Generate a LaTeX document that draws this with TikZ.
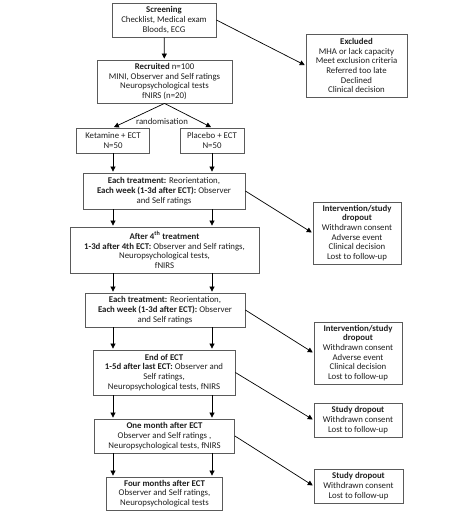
\documentclass[tikz,border=0pt]{standalone}
\usepackage{fontspec}
\setmainfont{Carlito}
\usetikzlibrary{arrows.meta,positioning,calc}
\definecolor{boxGray}{RGB}{90,90,90}
\definecolor{txtGray}{RGB}{30,30,30}

\begin{document}
\begin{tikzpicture}[x=1pt,y=-1pt,
    box/.style={draw=boxGray,line width=0.8pt,align=center,inner sep=0pt,
                text=txtGray,font=\fontsize{8.8}{9.7}\selectfont},
    arr/.style={-{Triangle[length=5pt,width=5pt]},line width=0.7pt,shorten >=1pt}]

    \useasboundingbox (0,0) rectangle (474,514);

    % Main column
    \node[box,minimum width=104pt,minimum height=34pt] (scr) at (164,20)
      {\textbf{Screening}\\Checklist, Medical exam\\Bloods, ECG};
    \node[box,minimum width=135pt,minimum height=43pt] (rec) at (164.5,81.5)
      {\textbf{Recruited} n=100\\MINI, Observer and Self ratings\\Neuropsychological tests\\fNIRS (n=20)};
    \node[text=txtGray,font=\fontsize{8.8}{9.7}\selectfont] (rnd) at (162,121) {randomisation};
    \node[box,minimum width=73pt,minimum height=25pt] (ket) at (113,140.5)
      {Ketamine + ECT\\N=50};
    \node[box,minimum width=64pt,minimum height=25pt] (pla) at (212,140.5)
      {Placebo + ECT\\N=50};
    \node[box,minimum width=162pt,minimum height=36pt] (tr1) at (164,191)
      {\textbf{Each treatment:} Reorientation,\\\textbf{Each week (1-3d after ECT):} Observer\\and Self ratings};
    \node[box,minimum width=189pt,minimum height=46pt] (aft) at (164.5,250)
      {\textbf{After 4\textsuperscript{th} treatment}\\\textbf{1-3d after 4th ECT:} Observer and Self ratings,\\Neuropsychological tests,\\fNIRS};
    \node[box,minimum width=160pt,minimum height=34pt] (tr2) at (165,310)
      {\textbf{Each treatment:} Reorientation,\\\textbf{Each week (1-3d after ECT):} Observer\\and Self ratings};
    \node[box,minimum width=142pt,minimum height=45pt] (ect) at (164,372.5)
      {\textbf{End of ECT}\\\textbf{1-5d after last ECT:} Observer and\\Self ratings,\\Neuropsychological tests, fNIRS};
    \node[box,minimum width=140pt,minimum height=34pt] (one) at (164.5,436)
      {\textbf{One month after ECT}\\Observer and Self ratings ,\\Neuropsychological tests, fNIRS};
    \node[box,minimum width=116pt,minimum height=33pt] (four) at (164.5,493.5)
      {\textbf{Four months after ECT}\\Observer and Self ratings,\\Neuropsychological tests};

    % Right column
    \node[box,minimum width=101pt,minimum height=63pt] (exc) at (356.5,65.5)
      {\textbf{Excluded}\\MHA or lack capacity\\Meet exclusion criteria\\Referred too late\\Declined\\Clinical decision};
    \node[box,minimum width=88pt,minimum height=62pt] (dr1) at (357,233)
      {\textbf{Intervention/study}\\\textbf{dropout}\\Withdrawn consent\\Adverse event\\Clinical decision\\Lost to follow-up};
    \node[box,minimum width=88pt,minimum height=62pt] (dr2) at (358,353)
      {\textbf{Intervention/study}\\\textbf{dropout}\\Withdrawn consent\\Adverse event\\Clinical decision\\Lost to follow-up};
    \node[box,minimum width=88pt,minimum height=34pt] (sd1) at (358,420)
      {\textbf{Study dropout}\\Withdrawn consent\\Lost to follow-up};
    \node[box,minimum width=89pt,minimum height=34pt] (sd2) at (358.5,486)
      {\textbf{Study dropout}\\Withdrawn consent\\Lost to follow-up};

    % Arrows down
    \draw[arr] (scr) -- (rec);
    \draw[arr] (rec.south) -- (ket.north);
    \draw[arr] (rec.south) -- (pla.north);
    \draw[arr] (ket) -- (ket |- tr1.north);
    \draw[arr] (pla) -- (pla |- tr1.north);
    \foreach \a/\b in {tr1/aft,aft/tr2,tr2/ect,ect/one,one/four} {
      \foreach \c in {ket,pla} {
        \draw[arr] (\a.south -| \c) -- (\b.north -| \c);
      }
    }

    % Arrows to the right
    \foreach \a/\b in {scr/exc,tr1/dr1,tr2/dr2,ect/sd1,one/sd2} {
      \draw[arr] (\a.east) -- (\b.west);
    }
  \end{tikzpicture}
\end{document}
